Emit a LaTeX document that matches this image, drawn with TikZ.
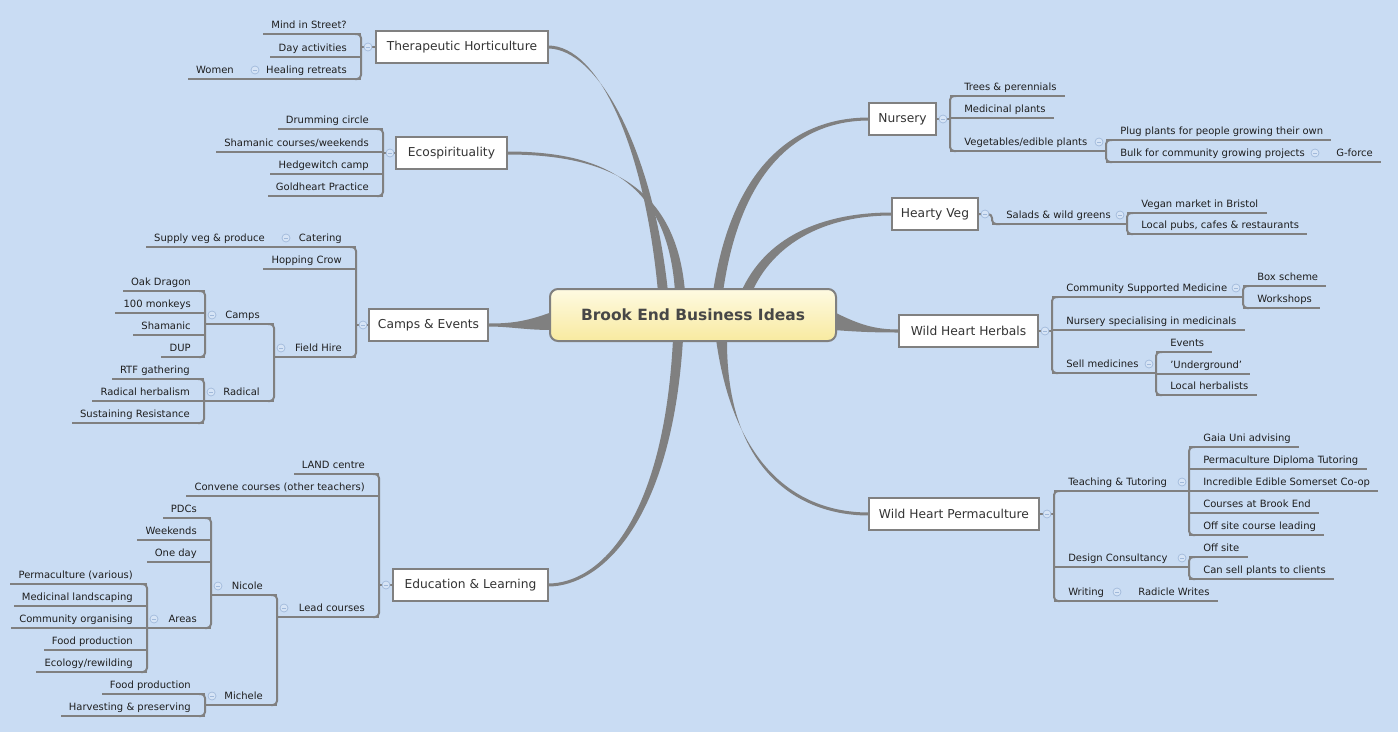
\documentclass[tikz,border=0pt]{standalone}
\usepackage{fontspec}
\setmainfont{DejaVu Sans}
\definecolor{bg}{RGB}{201,220,243}
\definecolor{ln}{RGB}{128,128,128}
\definecolor{mkf}{RGB}{214,228,246}
\definecolor{mkd}{RGB}{160,185,218}
\definecolor{tx}{RGB}{30,30,30}
\definecolor{ytop}{RGB}{254,250,226}
\definecolor{ybot}{RGB}{248,234,160}
\tikzset{
  ul/.style={draw=ln,line width=1.5pt},
  lbl/.style={font=\fontsize{7.5}{9}\selectfont,text=tx,inner sep=0pt},
  mk/.style={circle,minimum size=6pt,inner sep=0pt,fill=mkf,draw=mkd,line width=0.5pt,
    path picture={\draw[mkd,line width=0.6pt]([xshift=-1.5pt]path picture bounding box.center)--([xshift=1.5pt]path picture bounding box.center);}},
  mainbox/.style={draw=ln,line width=1.5pt,fill=white,inner sep=0pt,minimum height=24pt,font=\fontsize{9.2}{11}\selectfont,text=black!80},
  branch/.style={fill=ln,draw=none}
}
\newcounter{nn}
\newcommand\Lleaf[3]{\stepcounter{nn}\node[lbl,anchor=base east] (n\arabic{nn}) at ({#1-14},{#2-6}) {#3};
  \draw[ul] (#1,#2) -- (n\arabic{nn}.west |- 0,#2) -- ++(-6pt,0);}
\newcommand\Rleaf[3]{\stepcounter{nn}\node[lbl,anchor=base west] (n\arabic{nn}) at ({#1+14},{#2-6}) {#3};
  \draw[ul] (#1,#2) -- (n\arabic{nn}.east |- 0,#2) -- ++(6pt,0);}
\newcommand\Lint[4]{\stepcounter{nn}\node[lbl,anchor=base east] (n\arabic{nn}) at ({#1-14},{#2-6}) {#4};
  \draw[ul] (#3,#2) -- (#1,#2);\node[mk] (m\arabic{nn}) at ({#3+7},{#2-9}) {};}
\newcommand\Rint[4]{\stepcounter{nn}\node[lbl,anchor=base west] (n\arabic{nn}) at ({#1+14},{#2-6}) {#4};
  \draw[ul] (#1,#2) -- (#3,#2);\node[mk] (m\arabic{nn}) at ({#3-7},{#2-9}) {};}
\newcommand\Lbr[3]{\draw[ul,rounded corners=3pt] ({#1-6},#2) -- (#1,#2) -- (#1,#3) -- ({#1-6},#3);}
\newcommand\Rbr[3]{\draw[ul,rounded corners=3pt] ({#1+6},#2) -- (#1,#2) -- (#1,#3) -- ({#1+6},#3);}
% branch: start sx sy, c1, c2, end ex ey, start half offsets dx dy
\newcommand\branch[8]{\fill[branch] ({#1-#7},{#2-#8}) .. controls ({#3-#7},{#4-#8}) and (#5,{#6-1.5}) .. (#5+0,{#6-1.5}) -- cycle;}
\newcommand\br[6]{% #1 sx,#2 sy,#3 c1, #4 c2, #5 ex,#6 ey ; offsets vertical/horizontal via style
}
\begin{document}
\begin{tikzpicture}[x=0.75pt,y=-0.75pt]
\fill[bg] (0,0) rectangle (1398,732);
\useasboundingbox (0,0) rectangle (1398,732);
% branches (tapered)
\fill[ln] (658,292) .. controls (645,150) and (600,45.5) .. (548,45.5) -- (548,48.5) .. controls (598,48.5) and (653,150) .. (668,292) -- cycle;
\fill[ln] (675,292) .. controls (668,180) and (600,151.5) .. (507,151.5) -- (507,154.5) .. controls (598,154.5) and (676,180) .. (685,292) -- cycle;
\fill[ln] (552,312) .. controls (525,322) and (510,323.5) .. (488,323.5) -- (488,326.5) .. controls (510,326.5) and (525,330) .. (552,330) -- cycle;
\fill[ln] (673,339) .. controls (664,520) and (600,583.5) .. (548,583.5) -- (548,586.5) .. controls (602,586.5) and (672,520) .. (683,339) -- cycle;
\fill[ln] (713,292) .. controls (733,160) and (800,117.5) .. (869,117.5) -- (869,120.5) .. controls (802,120.5) and (741,165) .. (723,292) -- cycle;
\fill[ln] (741,292) .. controls (765,238) and (820,212.5) .. (892,212.5) -- (892,215.5) .. controls (822,215.5) and (773,245) .. (752,292) -- cycle;
\fill[ln] (834,312) .. controls (860,325) and (875,329.5) .. (899,329.5) -- (899,332.5) .. controls (875,332.5) and (860,332) .. (834,330) -- cycle;
\fill[ln] (716,339) .. controls (734,470) and (800,512.5) .. (869,512.5) -- (869,515.5) .. controls (798,515.5) and (726,470) .. (727,339) -- cycle;
% central
\node[draw=ln,line width=1.5pt,rounded corners=6pt,top color=ytop,bottom color=ybot,minimum width=214.5pt,minimum height=39pt,inner sep=0pt,font=\bfseries\fontsize{11.6}{14}\selectfont,text=black!72] (c) at (693,315) {Brook End Business Ideas};
% main boxes
\node[mainbox,minimum width=129pt] (th) at (462,47) {Therapeutic Horticulture};
\node[mainbox,minimum width=83.25pt] (eco) at (451.5,153) {Ecospirituality};
\node[mainbox,minimum width=89.25pt] (ce) at (428.5,325) {Camps \& Events};
\node[mainbox,minimum width=116.25pt] (edu) at (470.5,585) {Education \& Learning};
\node[mainbox,minimum width=50.25pt] (nur) at (902.5,119) {Nursery};
\node[mainbox,minimum width=64.5pt] (hv) at (935,214) {Hearty Veg};
\node[mainbox,minimum width=104.25pt] (whh) at (968.5,331) {Wild Heart Herbals};
\node[mainbox,minimum width=127.5pt] (whp) at (954,514) {Wild Heart Permaculture};
% main connectors
\draw[ul] (th.west) -- (361,47); \node[mk] (mth) at (368,47) {};
\draw[ul] (eco.west) -- (383,153); \node[mk] (meco) at (390,153) {};
\draw[ul] (ce.west) -- (356,325); \node[mk] (mce) at (363,325) {};
\draw[ul] (edu.west) -- (379,585); \node[mk] (medu) at (386,585) {};
\draw[ul] (nur.east) -- (950,119); \node[mk] (mnur) at (943,119) {};
\draw[ul,rounded corners=3pt] (hv.east) -- (992,214) -- (992,224) -- (1000,224); \node[mk] (mhv) at (985,214) {};
\draw[ul] (whh.east) -- (1052,331); \node[mk] (mwhh) at (1045,331) {};
\draw[ul] (whp.east) -- (1054,514); \node[mk] (mwhp) at (1047,514) {};
% Therapeutic
\Lbr{361}{34}{79}
\Lleaf{361}{34}{Mind in Street?}
\Lleaf{361}{57}{Day activities}
\Lint{361}{79}{248}{Healing retreats}
\Lleaf{248}{79}{Women}
% Eco
\Lbr{383}{129}{196}
\Lleaf{383}{129}{Drumming circle}
\Lleaf{383}{152}{Shamanic courses/weekends}
\Lleaf{383}{174}{Hedgewitch camp}
\Lleaf{383}{196}{Goldheart Practice}
% Camps
\Lbr{356}{247}{357}
\Lint{356}{247}{279}{Catering}
\Lleaf{279}{247}{Supply veg \& produce}
\Lleaf{356}{269}{Hopping Crow}
\Lint{356}{357}{274}{Field Hire}
\Lbr{274}{324}{401}
\Lint{274}{324}{205}{Camps}
\Lbr{205}{291}{357}
\Lleaf{205}{291}{Oak Dragon}
\Lleaf{205}{313}{100 monkeys}
\Lleaf{205}{335}{Shamanic}
\Lleaf{205}{357}{DUP}
\Lint{274}{401}{204}{Radical}
\Lbr{204}{379}{423}
\Lleaf{204}{379}{RTF gathering}
\Lleaf{204}{401}{Radical herbalism}
\Lleaf{204}{423}{Sustaining Resistance}
% Education
\Lbr{379}{474}{617}
\Lleaf{379}{474}{LAND centre}
\Lleaf{379}{496}{Convene courses (other teachers)}
\Lint{379}{617}{277}{Lead courses}
\Lbr{277}{595}{705}
\Lint{277}{595}{211}{Nicole}
\Lbr{211}{518}{628}
\Lleaf{211}{518}{PDCs}
\Lleaf{211}{540}{Weekends}
\Lleaf{211}{562}{One day}
\Lint{211}{628}{147}{Areas}
\Lbr{147}{584}{672}
\Lleaf{147}{584}{Permaculture (various)}
\Lleaf{147}{606}{Medicinal landscaping}
\Lleaf{147}{628}{Community organising}
\Lleaf{147}{650}{Food production}
\Lleaf{147}{672}{Ecology/rewilding}
\Lint{277}{705}{205}{Michele}
\Lbr{205}{694}{716}
\Lleaf{205}{694}{Food production}
\Lleaf{205}{716}{Harvesting \& preserving}
% Nursery
\Rbr{950}{96}{151}
\Rleaf{950}{96}{Trees \& perennials}
\Rleaf{950}{118}{Medicinal plants}
\Rint{950}{151}{1106}{Vegetables/edible plants}
\Rbr{1106}{140}{162}
\Rleaf{1106}{140}{Plug plants for people growing their own}
\Rint{1106}{162}{1322}{Bulk for community growing projects}
\Rleaf{1322}{162}{G-force}
% Hearty Veg
\Rint{992}{224}{1127}{Salads \& wild greens}
\Rbr{1127}{213}{234}
\Rleaf{1127}{213}{Vegan market in Bristol}
\Rleaf{1127}{234}{Local pubs, cafes \& restaurants}
% Herbals
\Rbr{1052}{297}{373}
\Rint{1052}{297}{1243}{Community Supported Medicine}
\Rbr{1243}{286}{308}
\Rleaf{1243}{286}{Box scheme}
\Rleaf{1243}{308}{Workshops}
\Rleaf{1052}{330}{Nursery specialising in medicinals}
\Rint{1052}{373}{1156}{Sell medicines}
\Rbr{1156}{352}{395}
\Rleaf{1156}{352}{Events}
\Rleaf{1156}{374}{'Underground'}
\Rleaf{1156}{395}{Local herbalists}
% Permaculture
\Rbr{1054}{491}{601}
\Rint{1054}{491}{1189}{Teaching \& Tutoring}
\Rbr{1189}{447}{535}
\Rleaf{1189}{447}{Gaia Uni advising}
\Rleaf{1189}{469}{Permaculture Diploma Tutoring}
\Rleaf{1189}{491}{Incredible Edible Somerset Co-op}
\Rleaf{1189}{513}{Courses at Brook End}
\Rleaf{1189}{535}{Off site course leading}
\Rint{1054}{567}{1189}{Design Consultancy}
\Rbr{1189}{557}{579}
\Rleaf{1189}{557}{Off site}
\Rleaf{1189}{579}{Can sell plants to clients}
\Rint{1054}{601}{1124}{Writing}
\Rleaf{1124}{601}{Radicle Writes}
\end{tikzpicture}
\end{document}
